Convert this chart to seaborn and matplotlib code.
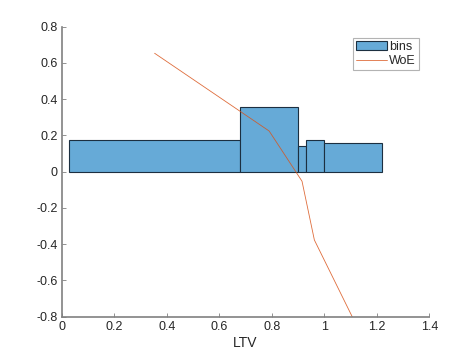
import numpy as np
import pandas as pd
import matplotlib
matplotlib.use("Agg")
import matplotlib.pyplot as plt
import seaborn as sns

# bin edges and bin heights (probability)
bin_edges = [0.029, 0.678, 0.898, 0.929, 1.000, 1.221]
bin_heights = [0.177, 0.355, 0.142, 0.177, 0.158]

# WoE curve, plotted at the bin centres
woe_x = [0.354, 0.790, 0.915, 0.962, 1.110]
woe_y = [0.653, 0.224, -0.053, -0.377, -0.812]

x_ticks = [0, 0.2, 0.4, 0.6, 0.8, 1.0, 1.2, 1.4]
x_labels = ["0", "0.2", "0.4", "0.6", "0.8", "1", "1.2", "1.4"]
y_ticks = [-0.8, -0.6, -0.4, -0.2, 0, 0.2, 0.4, 0.6, 0.8]
y_labels = ["-0.8", "-0.6", "-0.4", "-0.2", "0", "0.2", "0.4", "0.6", "0.8"]

sns.set_theme(style="ticks")
plt.rcParams["font.family"] = ["Liberation Sans", "DejaVu Sans"]
plt.rcParams["axes.unicode_minus"] = False

bar_color = "#66aad7"
line_color = "#d95319"
axis_color = "#262626"

centers = [(a + b) / 2 for a, b in zip(bin_edges[:-1], bin_edges[1:])]
bins_df = pd.DataFrame({"x": centers, "h": bin_heights})
woe_df = pd.DataFrame({"x": woe_x, "y": woe_y})

fig = plt.figure(figsize=(4.74, 3.55), dpi=100)
ax = fig.add_axes([0.13, 0.108, 0.776, 0.817])

sns.histplot(data=bins_df, x="x", weights="h", bins=bin_edges, stat="count",
             color=bar_color, alpha=1.0, edgecolor="#1c2f40", linewidth=0.8,
             ax=ax, label="bins")
sns.lineplot(data=woe_df, x="x", y="y", color=line_color, linewidth=0.6,
             alpha=0.85, ax=ax, label="WoE")

ax.set_xlim(0, 1.4)
ax.set_ylim(-0.8, 0.8)
ax.set_xticks(x_ticks)
ax.set_xticklabels(x_labels)
ax.set_yticks(y_ticks)
ax.set_yticklabels(y_labels)
ax.set_xlabel("LTV", fontsize=10, color=axis_color, labelpad=2)
ax.set_ylabel("")

for side in ["top", "right"]:
    ax.spines[side].set_visible(False)
for side in ["left", "bottom"]:
    ax.spines[side].set_color("#808080")
    ax.spines[side].set_linewidth(1.2)
ax.tick_params(direction="in", length=3, width=0.6, colors="#808080",
               labelcolor=axis_color, labelsize=9, pad=3)

handles, labels = ax.get_legend_handles_labels()
order = [labels.index("bins"), labels.index("WoE")]
leg = ax.legend([handles[i] for i in order], [labels[i] for i in order],
                loc="upper right", bbox_to_anchor=(0.972, 0.962), fontsize=9,
                frameon=True, fancybox=False, handlelength=2.5,
                handletextpad=0.2, borderpad=0.25, labelspacing=0.2,
                borderaxespad=0)
leg.get_frame().set_edgecolor("#a0a0a0")
leg.get_frame().set_linewidth(0.8)

fig.savefig("out.png", dpi=100)
